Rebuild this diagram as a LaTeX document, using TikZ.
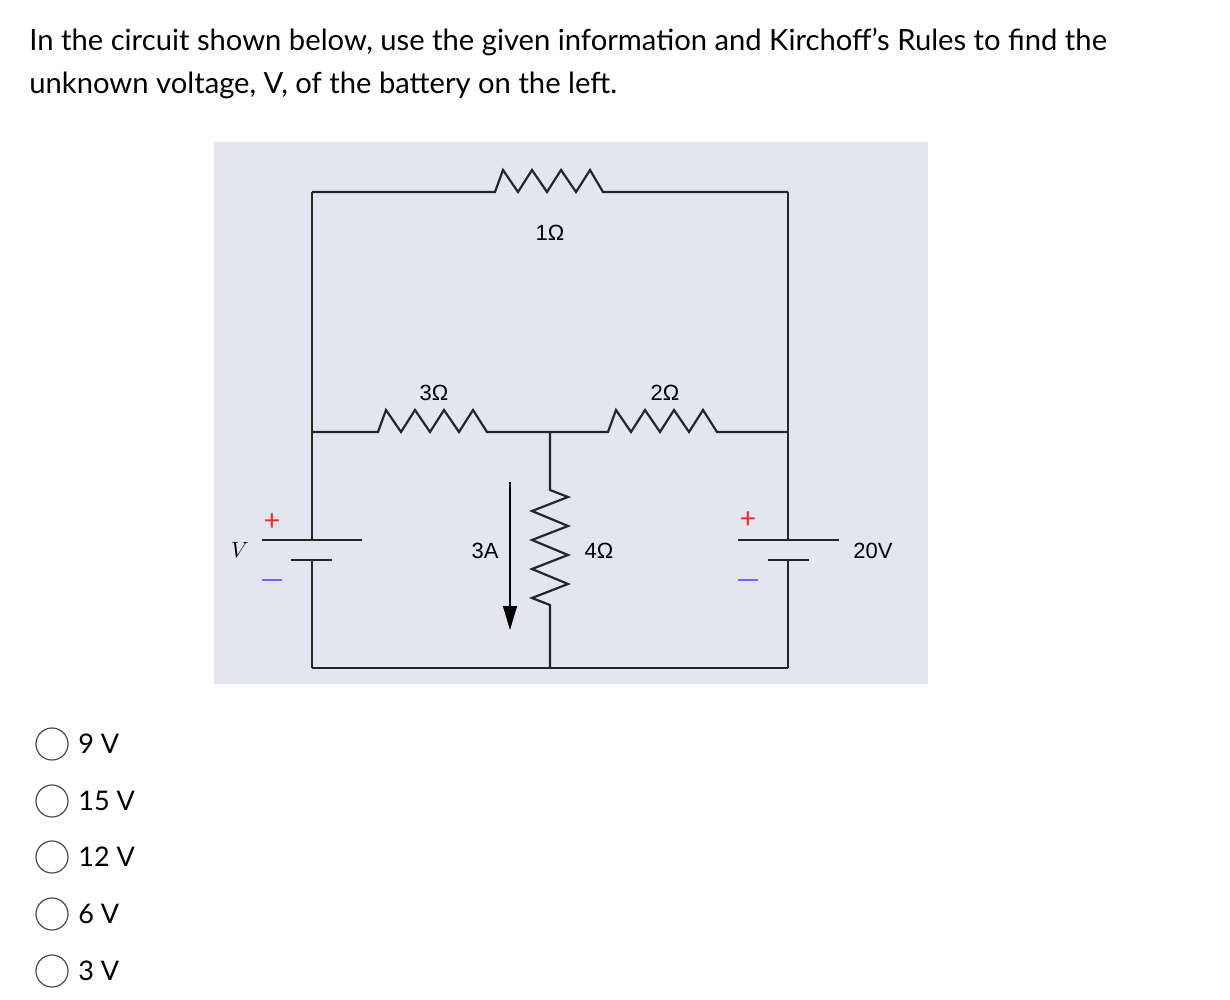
\documentclass[tikz,border=0pt]{standalone}
\usepackage{fontspec}
\setmainfont{Lato}
\newfontfamily\circfont{Liberation Sans}
\usetikzlibrary{arrows.meta}
\definecolor{panel}{RGB}{227,229,240}
\tikzset{
  wire/.style={line width=1.1pt, black!85},
  lbl/.style={font=\circfont\fontsize{11}{13}\selectfont, inner sep=0pt},
  choice/.style={circle, draw=black!70, line width=0.6pt, minimum size=16pt, inner sep=0pt},
  answer/.style={font=\fontsize{13.5}{16}\selectfont, anchor=west, inner sep=0pt}
}
\begin{document}
\begin{tikzpicture}[x=0.5pt,y=-0.5pt]
	\useasboundingbox (0,0) rectangle (1230,1000);
	% question
	\node [anchor=north west, align=left, inner sep=0pt, font=\fontsize{14.6}{21.5}\selectfont] (q) at (29,28)
	  {In the circuit shown below, use the given information and Kirchoff's Rules to find the\\unknown voltage, V, of the battery on the left.};
	\fill [panel] (214,142) rectangle (928,684);
	% junctions
	\coordinate (tl) at (312,192);
	\coordinate (tr) at (788,192);
	\coordinate (ml) at (312,432);
	\coordinate (mm) at (550,432);
	\coordinate (mr) at (788,432);
	\coordinate (bl) at (312,668);
	\coordinate (bm) at (550,668);
	\coordinate (br) at (788,668);
	% top 1 ohm
	\draw [wire] (tl) -- (495,192) -- (503,170) -- (518,192) -- (532,170) -- (547,192) -- (561,170) -- (576,192) -- (590,170) -- (603,192) -- (tr);
	\node [lbl] (r1) at (550,233) {1Ω};
	% middle branch
	\draw [wire] (ml) -- (378,432) -- (386,410) -- (401,432) -- (415,410) -- (430,432) -- (444,410) -- (459,432) -- (473,410) -- (487,432) -- (mm);
	\draw [wire] (mm) -- (608,432) -- (616,410) -- (631,432) -- (645,410) -- (660,432) -- (674,410) -- (689,432) -- (703,410) -- (717,432) -- (mr);
	\node [lbl] (r3) at (434,393) {3Ω};
	\node [lbl] (r2) at (665,393) {2Ω};
	% 4 ohm
	\draw [wire] (mm) -- (550,490) -- (568,497) -- (532,511) -- (568,526) -- (532,540) -- (568,555) -- (532,569) -- (568,584) -- (532,598) -- (550,605) -- (bm);
	\node [lbl] (r4) at (599,551) {4Ω};
	% current arrow
	\coordinate (ia) at (510,482);
	\coordinate (ib) at (510,630);
	\draw [line width=0.7pt, -{Triangle[length=12pt,width=7pt]}] (ia) -- (ib);
	\node [lbl] (i3) at (485,551) {3A};
	% left battery
	\draw [wire] (tl) -- (312,540);
	\draw [wire] (262,540) -- (362,540);
	\draw [wire] (291,560) -- (332,560);
	\draw [wire] (312,560) -- (bl);
	\node [text=red!85, font=\Large, inner sep=0pt] (lp) at (272,522) {+};
	\draw [blue!60, line width=0.6pt] (262,580) -- (282,580);
	\node [inner sep=0pt, font=\fontsize{11}{13}\selectfont] (vl) at (240,550) {$V$};
	% right battery
	\draw [wire] (tr) -- (788,540);
	\draw [wire] (738,540) -- (839,540);
	\draw [wire] (768,560) -- (809,560);
	\draw [wire] (788,560) -- (br);
	\node [text=red!85, font=\Large, inner sep=0pt] (rp) at (748,520) {+};
	\draw [blue!60, line width=0.6pt] (738,580) -- (758,580);
	\node [lbl] (vr) at (873,551) {20V};
	% bottom
	\draw [wire] (bl) -- (br);
	% choices
	\foreach \y/\t in {744/9 V, 801/15 V, 857/12 V, 914/6 V, 971/3 V} {
	  \node [choice] at (52,\y) {};
	  \node [answer] at (78,\y) {\t};
	}
\end{tikzpicture}
\end{document}
